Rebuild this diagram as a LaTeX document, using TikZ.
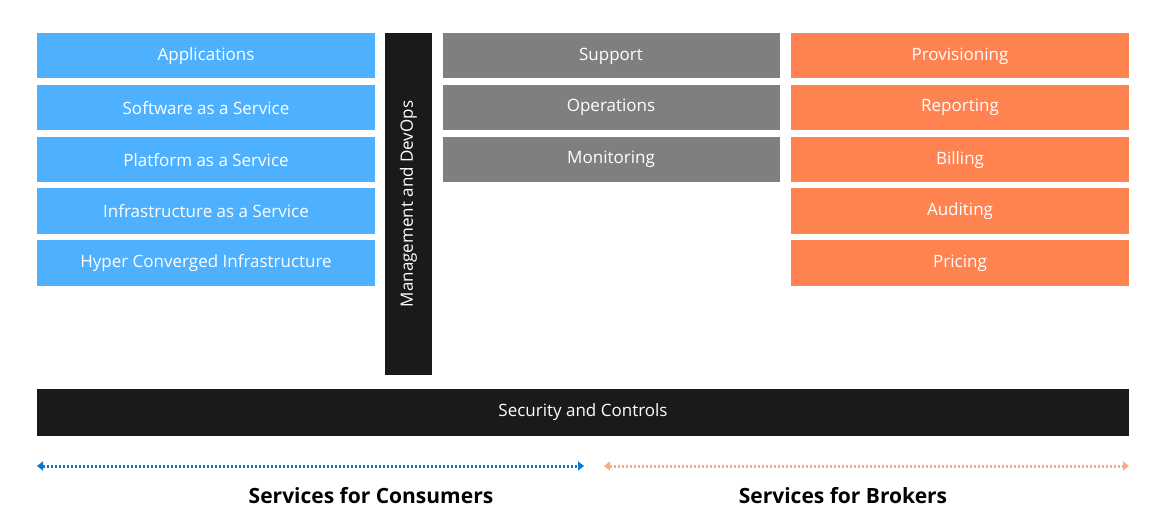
\documentclass[tikz,border=0pt]{standalone}
\usepackage{fontspec}
\setmainfont{Open Sans}
\usetikzlibrary{arrows.meta}
\definecolor{cblue}{HTML}{4DB1FF}
\definecolor{cgray}{HTML}{7F7F7F}
\definecolor{corange}{HTML}{FF8251}
\definecolor{cdark}{HTML}{1A1A1A}
\definecolor{ablue}{HTML}{0A78D7}
\definecolor{aorange}{HTML}{FFA98A}
\begin{document}
\begin{tikzpicture}[x=1pt,y=-1pt,
 box/.style={draw=none,inner sep=0pt,text=white,font=\fontsize{17}{20}\selectfont},
 arr/.style={line width=3pt,dash pattern=on 2pt off 2pt,{Triangle[length=6pt,width=9pt]}-{Triangle[length=6pt,width=9pt]}},
 lab/.style={font=\fontsize{21}{25}\selectfont\bfseries}]
\useasboundingbox (0,0) rectangle (1158,526);
\foreach \t [count=\i] in {Applications,Software as a Service,Platform as a Service,Infrastructure as a Service,Hyper Converged Infrastructure}{
 \pgfmathsetmacro\yy{33+51.8*(\i-1)}
 \fill[cblue] (37,\yy) rectangle ++(338,45.5);
 \node[box] (b\i) at (206,\yy+23) {\t};}
\foreach \t [count=\i] in {Support,Operations,Monitoring}{
 \pgfmathsetmacro\yy{33+51.8*(\i-1)}
 \fill[cgray] (443,\yy) rectangle ++(337,45.5);
 \node[box] (g\i) at (611,\yy+23) {\t};}
\foreach \t [count=\i] in {Provisioning,Reporting,Billing,Auditing,Pricing}{
 \pgfmathsetmacro\yy{33+51.8*(\i-1)}
 \fill[corange] (791,\yy) rectangle ++(338,45.5);
 \node[box] (o\i) at (960,\yy+23) {\t};}
\fill[cdark] (385,33) rectangle (432,375);
\node[box,rotate=90] (m) at (408.5,204) {Management and DevOps};
\fill[cdark] (37,389) rectangle (1129,436);
\node[box] (s) at (583,412.5) {Security and Controls};
\coordinate (a1) at (37,466); \coordinate (a2) at (584,466);
\coordinate (a3) at (604,466); \coordinate (a4) at (1129,466);
\draw[arr,ablue] (a1) -- (a2);
\draw[arr,aorange] (a3) -- (a4);
\node[lab] (l1) at (371,496) {Services for Consumers};
\node[lab] (l2) at (843,496) {Services for Brokers};
\end{tikzpicture}
\end{document}
